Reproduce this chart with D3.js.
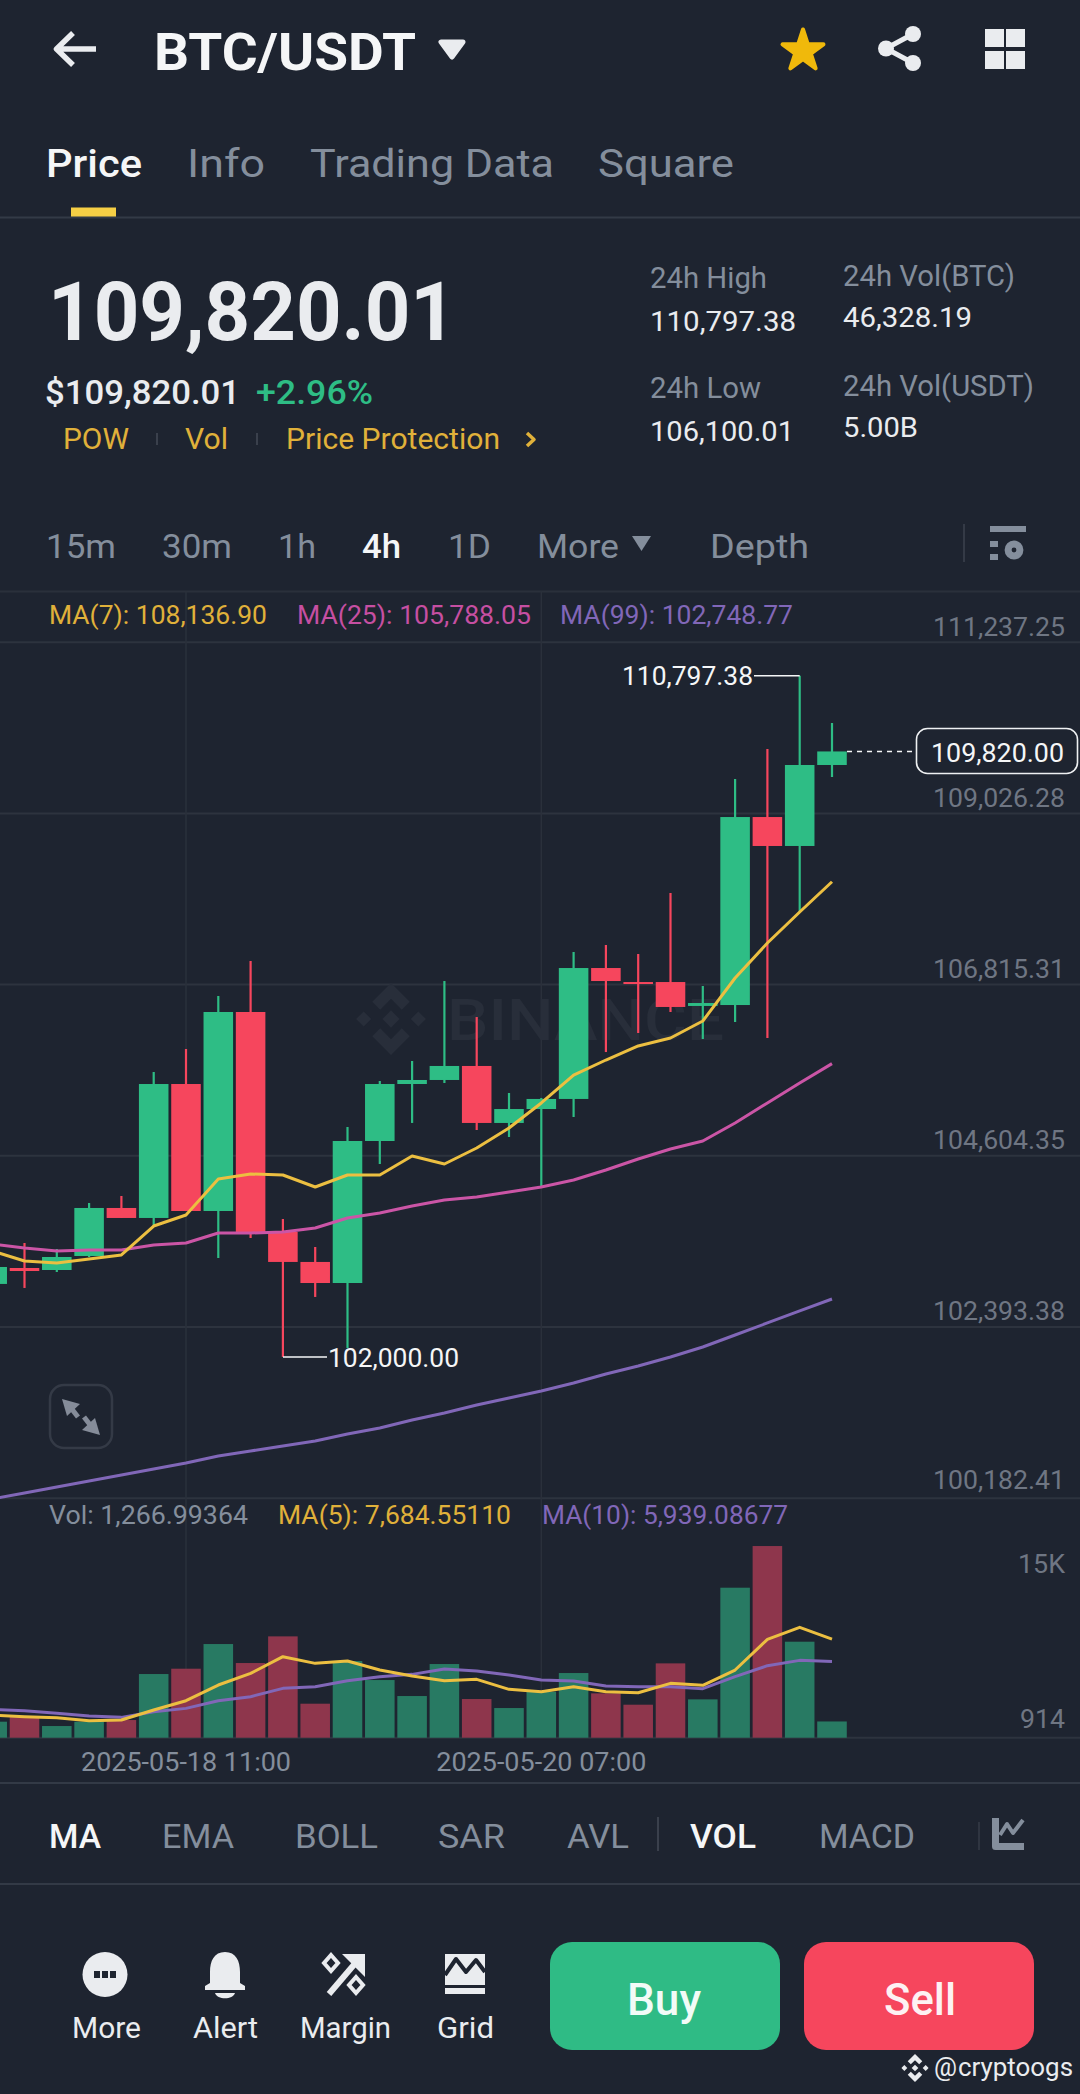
<!DOCTYPE html>
<html><head><meta charset="utf-8">
<script src="https://cdn.jsdelivr.net/npm/d3@7"></script>
<style>html,body{margin:0;padding:0;background:#1e2430;overflow:hidden}svg{display:block}text{font-family:Roboto,sans-serif}</style>
</head><body><svg id="c" width="1080" height="2094"></svg>
<script>
const candleTimes = ["05-17 11:00","05-17 15:00","05-17 19:00","05-17 23:00","05-18 03:00","05-18 07:00","05-18 11:00","05-18 15:00","05-18 19:00","05-18 23:00","05-19 03:00","05-19 07:00","05-19 11:00","05-19 15:00","05-19 19:00","05-19 23:00","05-20 03:00","05-20 07:00","05-20 11:00","05-20 15:00","05-20 19:00","05-20 23:00","05-21 03:00","05-21 07:00","05-21 11:00","05-21 15:00","05-21 19:00"];
const opens  = [102943,103149,103123,103304,103924,103795,105525,103885,106455,103614,103227,102955,104789,105525,105577,105758,105022,105202,105332,107023,106842,106842,106533,106545,108973,108599,109645];
const highs  = [103188,103472,103394,103988,104079,105680,105977,106662,107114,103782,103420,104970,105564,105822,106855,106390,105409,105345,107230,107320,107204,107992,106791,109464,109851,110797.38,110187];
const lows   = [102917,102891,103097,103291,103795,103691,103885,103278,103537,102000,102775,102116,104492,105022,105538,104931,104841,104195,105099,105938,106184,106455,106106,106326,106119,107746,109490];
const closes = [103162,103110,103291,103924,103795,105525,103885,106455,103614,103227,102955,104789,105525,105577,105758,105022,105202,105332,107023,106855,106817,106520,106571,108973,108599,109645,109820];
const ma7  = [103369,103239,103214,103265,103317,103691,103833,104298,104363,104350,104195,104350,104350,104595,104492,104699,104957,105280,105641,105835,106016,106119,106339,106894,107346,107746,108136.90];
const ma25 = [103459,103407,103369,103381,103381,103446,103472,103601,103601,103614,103666,103795,103859,103950,104027,104066,104131,104195,104285,104415,104557,104686,104789,105022,105280,105538,105788.05];
const ma99 = [100166,100243,100321,100398,100476,100553,100631,100721,100786,100850,100915,101005,101083,101186,101276,101380,101470,101561,101664,101780,101883,102000,102129,102284,102439,102594,102748.77];
const volumes = [1248,1638,910,1248,1378,4966,5382,7306,5824,7904,2652,5980,4498,3250,5746,3016,2314,3588,5044,3458,2574,5798,2990,11700,14950,7488,1266.99];
const volMa5  = [1768,1638,1560,1326,1378,2158,2886,4108,5018,6318,5798,5980,5278,4810,4446,4550,3770,3588,3978,3588,3510,4238,4082,5278,7670,8606,7684.55];
const volMa10 = [2210,2106,1898,1690,1586,2028,2288,2886,3198,3848,3978,4446,4758,4940,5356,5200,4888,4498,4420,4030,3978,3978,3822,4758,5616,6032,5939.09];
const priceTicks = [111237.25,109026.28,106815.31,104604.35,102393.38,100182.41];
const volTickLabels = ["15K","914"];
const dateTicks = ["05-18 11:00","05-20 07:00"];
const dateLabels = ["2025-05-18 11:00","2025-05-20 07:00"];

const BG="#1e2430",GRID="#2d333e",UP="#2ebd85",DN="#f6465d",WHITE="#eaecef",GREY="#848e9c",DIM="#6f7683",GOLD="#e0b13a",PINK="#c64fa2",PURP="#8167b8";
const svg=d3.select("#c");
svg.append("rect").attr("width",1080).attr("height",2094).attr("fill",BG);

function label(t,x,y,size,fill,width,weight,anchor){
  const end=anchor==="end";
  const s=svg.append("text").text(t).attr("x",end?x+1:x-1).attr("y",y).attr("font-size",size).attr("fill",fill).attr("font-weight",weight||400).attr("text-anchor",anchor||"start");
  if(width) s.attr("textLength",width+2).attr("lengthAdjust","spacingAndGlyphs");
  return s;
}
function hline(y,x1,x2,c,w){svg.append("line").attr("x1",x1).attr("x2",x2).attr("y1",y).attr("y2",y).attr("stroke",c).attr("stroke-width",w||2);}
function vline(x,y1,y2,c,w){svg.append("line").attr("x1",x).attr("x2",x).attr("y1",y1).attr("y2",y2).attr("stroke",c).attr("stroke-width",w||2);}
function poly(pts,fill,g){return (g||svg).append("polygon").attr("points",pts.map(p=>p.join(",")).join(" ")).attr("fill",fill);}
function pathEl(d,stroke,w,fill){return svg.append("path").attr("d",d).attr("stroke",stroke||"none").attr("stroke-width",w||0).attr("fill",fill||"none").attr("stroke-linejoin","round");}
function logo(cx,cy,s,c){
  const T=p=>p.map(([a,b])=>[cx+a*s,cy+b*s]);
  poly(T([[0,-1],[.52,-.48],[.3,-.26],[0,-.56],[-.3,-.26],[-.52,-.48]]),c);
  poly(T([[0,1],[.52,.48],[.3,.26],[0,.56],[-.3,.26],[-.52,.48]]),c);
  poly(T([[0,-.24],[.24,0],[0,.24],[-.24,0]]),c);
  poly(T([[-.76,-.21],[-.55,0],[-.76,.21],[-.97,0]]),c);
  poly(T([[.76,-.21],[.97,0],[.76,.21],[.55,0]]),c);
}

/* ---- header ---- */
pathEl("M96 49H58M73 33L56.5 49L73 65",WHITE,5.5);
label("BTC/USDT",155,69.5,52,"#f5f6f7",260,700);
pathEl("M441 42H463L452 57Z",WHITE,5,WHITE);
svg.append("path").attr("d",d3.symbol().type(d3.symbolStar).size(520)()).attr("transform","translate(803,51)").attr("fill","#f0b90b").attr("stroke","#f0b90b").attr("stroke-width",4).attr("stroke-linejoin","round");
pathEl("M886 48.5L913 34M886 48.5L913 63",WHITE,5);
[[886,48.5],[913,34],[913,63]].forEach(p=>svg.append("circle").attr("cx",p[0]).attr("cy",p[1]).attr("r",8).attr("fill",WHITE));
[[985,29],[1006,29],[985,51],[1006,51]].forEach(p=>svg.append("rect").attr("x",p[0]).attr("y",p[1]).attr("width",19).attr("height",18).attr("fill",WHITE));

label("Price",47,177,38,"#f5f6f7",94,500);
label("Info",188,177,38,GREY,76,400);
label("Trading Data",311,177,38,GREY,242,400);
label("Square",599,177,38,GREY,134,400);
svg.append("rect").attr("x",71).attr("y",207.5).attr("width",45).attr("height",9.5).attr("fill","#f6cf45");
hline(217.5,0,1080,"#333a46",2);

/* ---- ticker ---- */
label("109,820.01",49,340,82,WHITE,406,700);
label("$109,820.01",46,404,33,WHITE,193,500);
label("+2.96%",257,404,33,UP,115,500);
label("POW",64,449,29,GOLD,64);
label("Vol",186,449,29,GOLD,41);
label("Price Protection",287,449,29,GOLD,212);
vline(157,433,445,"#3a404c",2);vline(257,433,445,"#3a404c",2);
pathEl("M527 433L534 439.5L527 446",GOLD,3.5);
label("24h High",651,288,29,GREY,115);
label("110,797.38",651,331,28,WHITE,144);
label("24h Vol(BTC)",844,286,29,GREY,170);
label("46,328.19",844,327,28,WHITE,127);
label("24h Low",651,398,29,GREY,109);
label("106,100.01",651,441,28,WHITE,142);
label("24h Vol(USDT)",844,395.5,29,GREY,189);
label("5.00B",844,437,28,WHITE,73);

/* ---- intervals ---- */
[["15m",47,68],["30m",163,68],["1h",279,36],["1D",449,41],["More",538,80],["Depth",711,97]].forEach(d=>label(d[0],d[1],557.5,33,GREY,d[2]));
label("4h",363,557.5,33,"#f5f6f7",37,500);
poly([[632,536],[651,536],[641.5,551]],GREY);
vline(964,524,562,"#343a46",2);
svg.append("rect").attr("x",990).attr("y",526).attr("width",36).attr("height",6).attr("fill",GREY);
svg.append("rect").attr("x",990).attr("y",541).attr("width",8).attr("height",6).attr("fill",GREY);
svg.append("rect").attr("x",990).attr("y",554).attr("width",8).attr("height",6).attr("fill",GREY);
svg.append("path").attr("d",d3.symbol().type(d3.symbolCircle).size(110)()).attr("transform","translate(1014,550)").attr("fill","none").attr("stroke",GREY).attr("stroke-width",7);

/* ---- scales ---- */
const x=d3.scaleBand().domain(candleTimes).range([-23.95,848.15]).paddingInner(0.085).paddingOuter(0.0425);
const cx=t=>x(t)+x.bandwidth()/2;
const y=d3.scaleLinear().domain([100182.41,111237.25]).range([1497.7,641.7]);
const vy=d3.scaleLinear().domain([0,15000]).range([1737.7,1545.4]);

/* ---- grid + axes ---- */
hline(591.5,0,1080,"#2a303b",2);
const yAxis=d3.axisRight(y).tickValues(priceTicks).tickSize(1080).tickFormat(d3.format(",.2f"));
const ga=svg.append("g").call(yAxis);
ga.select(".domain").remove();
ga.selectAll("line").attr("stroke",GRID).attr("stroke-width",2);
ga.selectAll("text").attr("x",1065).attr("dy",d=>d===priceTicks[priceTicks.length-1]?-9.5:-6.5).attr("text-anchor","end").attr("font-size",25).attr("fill",DIM).attr("font-family","Roboto,sans-serif").attr("textLength",132).attr("lengthAdjust","spacingAndGlyphs");
const xAxis=d3.axisBottom(x).tickValues(dateTicks).tickSize(-1146).tickFormat((d,i)=>dateLabels[i]);
const gx=svg.append("g").attr("transform","translate(0,1737.7)").call(xAxis);
gx.select(".domain").remove();
gx.selectAll("line").attr("stroke","#2a303b").attr("stroke-width",1.5);
gx.selectAll("text").attr("y",33).attr("dy",0).attr("font-size",25).attr("fill",GREY).attr("font-family","Roboto,sans-serif").attr("textLength",210).attr("lengthAdjust","spacingAndGlyphs");

/* ---- watermark ---- */
logo(391,1019,36,"#282e3a");
label("BINANCE",448,1040,58,"#282e3a",275,500);

/* ---- legends ---- */
label("MA(7): 108,136.90",50,624,25,GOLD,216);
label("MA(25): 105,788.05",298,624,25,PINK,232);
label("MA(99): 102,748.77",561,624,25,PURP,231);
label("Vol: 1,266.99364",50,1524,25,GREY,197);
label("MA(5): 7,684.55110",279,1524,25,GOLD,231);
label("MA(10): 5,939.08677",543,1524,25,PURP,244);

/* ---- volume ---- */
hline(1737.7,0,1080,GRID,2);
svg.append("g").selectAll("rect").data(candleTimes).join("rect")
  .attr("x",t=>x(t)).attr("width",x.bandwidth())
  .attr("y",(t,i)=>vy(volumes[i])).attr("height",(t,i)=>vy(0)-vy(volumes[i]))
  .attr("fill",(t,i)=>closes[i]>=opens[i]?"#287a63":"#8e364c");
const vLine=d3.line().x((d,i)=>cx(candleTimes[i])).y(d=>vy(d));
[[volMa10,PURP],[volMa5,"#ecbf41"]].forEach(([s,c])=>svg.append("path").attr("d",vLine(s)).attr("fill","none").attr("stroke",c).attr("stroke-width",3).attr("stroke-linejoin","round"));
label(volTickLabels[0],1064,1572.7,25,DIM,45,400,"end");
label(volTickLabels[1],1064,1728,25,DIM,43,400,"end");

/* ---- candles ---- */
const cg=svg.append("g").selectAll("g").data(candleTimes).join("g");
cg.append("line").attr("x1",cx).attr("x2",cx).attr("y1",(t,i)=>y(highs[i])).attr("y2",(t,i)=>y(lows[i]))
  .attr("stroke",(t,i)=>closes[i]>=opens[i]?UP:DN).attr("stroke-width",2.2);
cg.append("rect").attr("x",t=>x(t)).attr("width",x.bandwidth())
  .attr("y",(t,i)=>y(Math.max(opens[i],closes[i])))
  .attr("height",(t,i)=>Math.max(2,Math.abs(y(opens[i])-y(closes[i]))))
  .attr("fill",(t,i)=>closes[i]>=opens[i]?UP:DN);
const pLine=d3.line().x((d,i)=>cx(candleTimes[i])).y(d=>y(d));
[[ma99,PURP],[ma25,"#cb55a6"],[ma7,"#ecbf41"]].forEach(([s,c])=>svg.append("path").attr("d",pLine(s)).attr("fill","none").attr("stroke",c).attr("stroke-width",3).attr("stroke-linejoin","round"));

/* ---- high / low / last ---- */
const lastP=closes[closes.length-1];
label(d3.format(",.2f")(d3.max(highs)),623,685,25,"#f5f6f7",129);
hline(y(d3.max(highs)),754,cx(candleTimes[25]),"#f5f6f7",1.5);
label(d3.format(",.2f")(d3.min(lows)),329,1367,25,"#f5f6f7",129);
hline(y(d3.min(lows)),283,327,"#f5f6f7",1.5);
svg.append("line").attr("x1",847).attr("x2",916).attr("y1",y(lastP)).attr("y2",y(lastP)).attr("stroke","#f5f6f7").attr("stroke-width",1.5).attr("stroke-dasharray","5 5");
svg.append("rect").attr("x",916.5).attr("y",728.5).attr("width",161).attr("height",45).attr("rx",11).attr("fill",BG).attr("stroke","#eef0f2").attr("stroke-width",1.6);
label(d3.format(",.2f")(lastP),932,761.5,25,"#f5f6f7",131);

/* ---- expand ---- */
svg.append("rect").attr("x",50).attr("y",1385).attr("width",62).attr("height",63).attr("rx",14).attr("fill","none").attr("stroke","#343a46").attr("stroke-width",2.5);
const EXP="#858c99";
poly([[62,1399],[80,1404],[67,1416]],EXP);pathEl("M71 1408L78 1417",EXP,5);
poly([[100,1435],[82,1430],[95,1418]],EXP);pathEl("M91 1426L84 1417",EXP,5);

/* ---- indicators row ---- */
hline(1783,0,1080,"#333a46",2);
[["EMA",163,70],["BOLL",296,81],["SAR",439,65],["AVL",568,60],["MACD",820,94]].forEach(d=>label(d[0],d[1],1848,34,GREY,d[2]));
label("MA",50,1848,34,"#f5f6f7",50,500);
label("VOL",691,1848,34,"#f5f6f7",64,500);
vline(658,1817,1851,"#3a404c",2);
vline(979,1822,1850,"#2f3541",2);
pathEl("M995.5 1818V1846.5H1024",GREY,7);
pathEl("M1000 1835L1007 1824L1013 1833L1023 1820",GREY,4);
hline(1884,0,1080,"#333a46",2);

/* ---- bottom bar ---- */
svg.append("circle").attr("cx",105).attr("cy",1974.5).attr("r",22.5).attr("fill",WHITE);
[94,102,110].forEach(a=>svg.append("rect").attr("x",a).attr("y",1971).attr("width",6).attr("height",7).attr("fill",BG));
pathEl("M225 1952C214 1952 210 1961 210 1972V1983L205 1986V1990H245V1986L240 1983V1972C240 1961 236 1952 225 1952Z",null,0,WHITE);
pathEl("M215 1993H235C233 2000 217 2000 215 1993Z",null,0,WHITE);
pathEl("M329 1994L358 1960",WHITE,6);
poly([[342,1954],[365,1954],[365,1977]],WHITE);
poly([[331,1955],[338,1963],[331,1971],[324,1963]],"none").attr("stroke",WHITE).attr("stroke-width",4);
poly([[356,1977],[363,1985],[356,1993],[349,1985]],"none").attr("stroke",WHITE).attr("stroke-width",4);
svg.append("rect").attr("x",445).attr("y",1954).attr("width",40).attr("height",28).attr("fill",WHITE);
pathEl("M445 1975L456 1959L466 1972L476 1960L485 1972",BG,4);
svg.append("rect").attr("x",445).attr("y",1982).attr("width",40).attr("height",3).attr("fill",WHITE);
svg.append("rect").attr("x",445).attr("y",1988).attr("width",40).attr("height",6).attr("fill",WHITE);
label("More",73,2037.7,30,WHITE,67);
label("Alert",194,2037.7,30,WHITE,63);
label("Margin",301,2037.7,30,WHITE,89);
label("Grid",438,2037.7,30,WHITE,55);
svg.append("rect").attr("x",550).attr("y",1942).attr("width",230).attr("height",108).attr("rx",22).attr("fill","#2fbb85");
svg.append("rect").attr("x",804).attr("y",1942).attr("width",230).attr("height",108).attr("rx",22).attr("fill","#f6465d");
label("Buy",628,2015,44,"#f2fbf7",72,500);
label("Sell",885,2015,44,"#fdf1f3",70,500);

/* ---- credit ---- */
logo(915,2068,14,WHITE);
label("@",935,2075.5,26,WHITE,21);
label("cryptoogs",959,2075.5,26,WHITE,113);
</script></body></html>
